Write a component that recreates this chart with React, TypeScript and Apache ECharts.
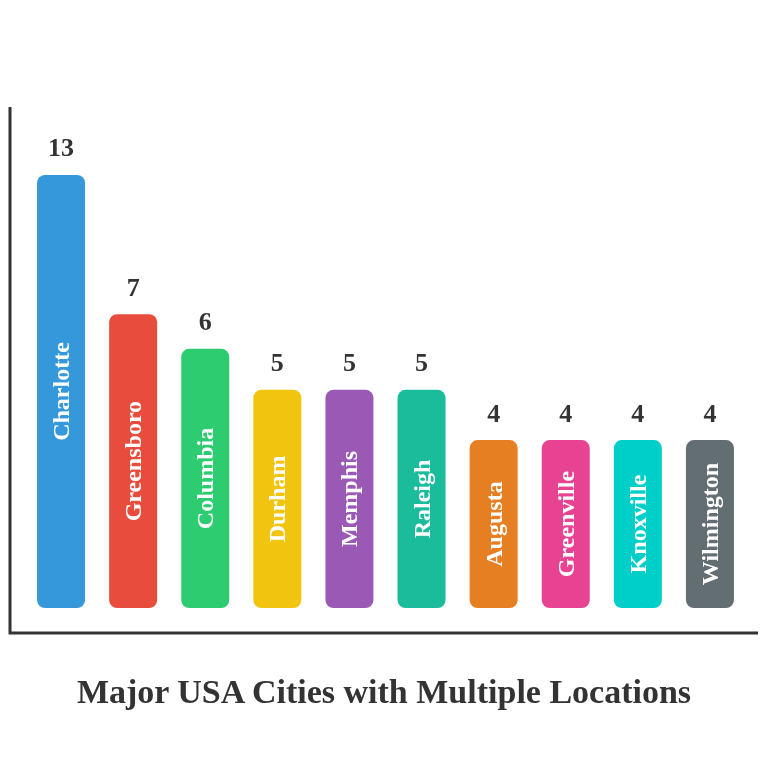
import React, { useEffect, useRef } from "react";
import * as echarts from "echarts";

const cities = ["Charlotte", "Greensboro", "Columbia", "Durham", "Memphis", "Raleigh", "Augusta", "Greenville", "Knoxville", "Wilmington"];
const counts = [13, 7, 6, 5, 5, 5, 4, 4, 4, 4];
const barColors = ["#3498db", "#e74c3c", "#2ecc71", "#f1c40f", "#9b59b6", "#1abc9c", "#e67e22", "#e84393", "#00cec9", "#636e72"];
const titleText = "Major USA Cities with Multiple Locations";

export default function App() {
  const ref = useRef<HTMLDivElement>(null);
  useEffect(() => {
    if (!ref.current) return;
    const chart = echarts.init(ref.current, null, { renderer: "svg" });
    const font = "'Liberation Serif', 'Times New Roman', serif";
    chart.setOption({
      animation: false,
      title: {
        text: titleText,
        left: "center",
        top: 669,
        textStyle: { fontFamily: font, fontSize: 34, fontWeight: "bold", color: "#333" },
      },
      grid: { left: 25, right: 22, top: 107, bottom: 135 },
      xAxis: {
        type: "category",
        data: cities,
        axisLine: { show: false },
        axisTick: { show: false },
        axisLabel: { show: false },
      },
      yAxis: {
        type: "log",
        logBase: 10,
        min: 1.696,
        max: 17.59,
        startValue: 1.895,
        axisLine: { show: false },
        axisTick: { show: false },
        axisLabel: { show: false },
        splitLine: { show: false },
      },
      series: [
        {
          type: "bar",
          data: counts.map((v, i) => ({ value: v, itemStyle: { color: barColors[i] } })),
          barWidth: 48,
          itemStyle: { borderRadius: 8 },
          label: {
            show: true,
            position: "inside",
            rotate: 90,
            formatter: (p: any) => p.name,
            color: "#fff",
            fontFamily: font,
            fontWeight: "bold",
            fontSize: 24,
          },
        },
        {
          type: "bar",
          data: counts,
          barWidth: 48,
          barGap: "-100%",
          itemStyle: { color: "rgba(0,0,0,0)" },
          label: {
            show: true,
            position: "top",
            distance: 14,
            color: "#333",
            fontFamily: font,
            fontWeight: "bold",
            fontSize: 26,
          },
          z: 3,
        },
      ],
      graphic: [
        {
          type: "polyline",
          shape: { points: [[10, 107], [10, 633], [758, 633]] },
          style: { stroke: "#333", lineWidth: 3, fill: null },
        },
      ],
    });
    return () => chart.dispose();
  }, []);
  return <div ref={ref} style={{ position: "fixed", left: 0, top: 0, width: 768, height: 768 }} />;
}
